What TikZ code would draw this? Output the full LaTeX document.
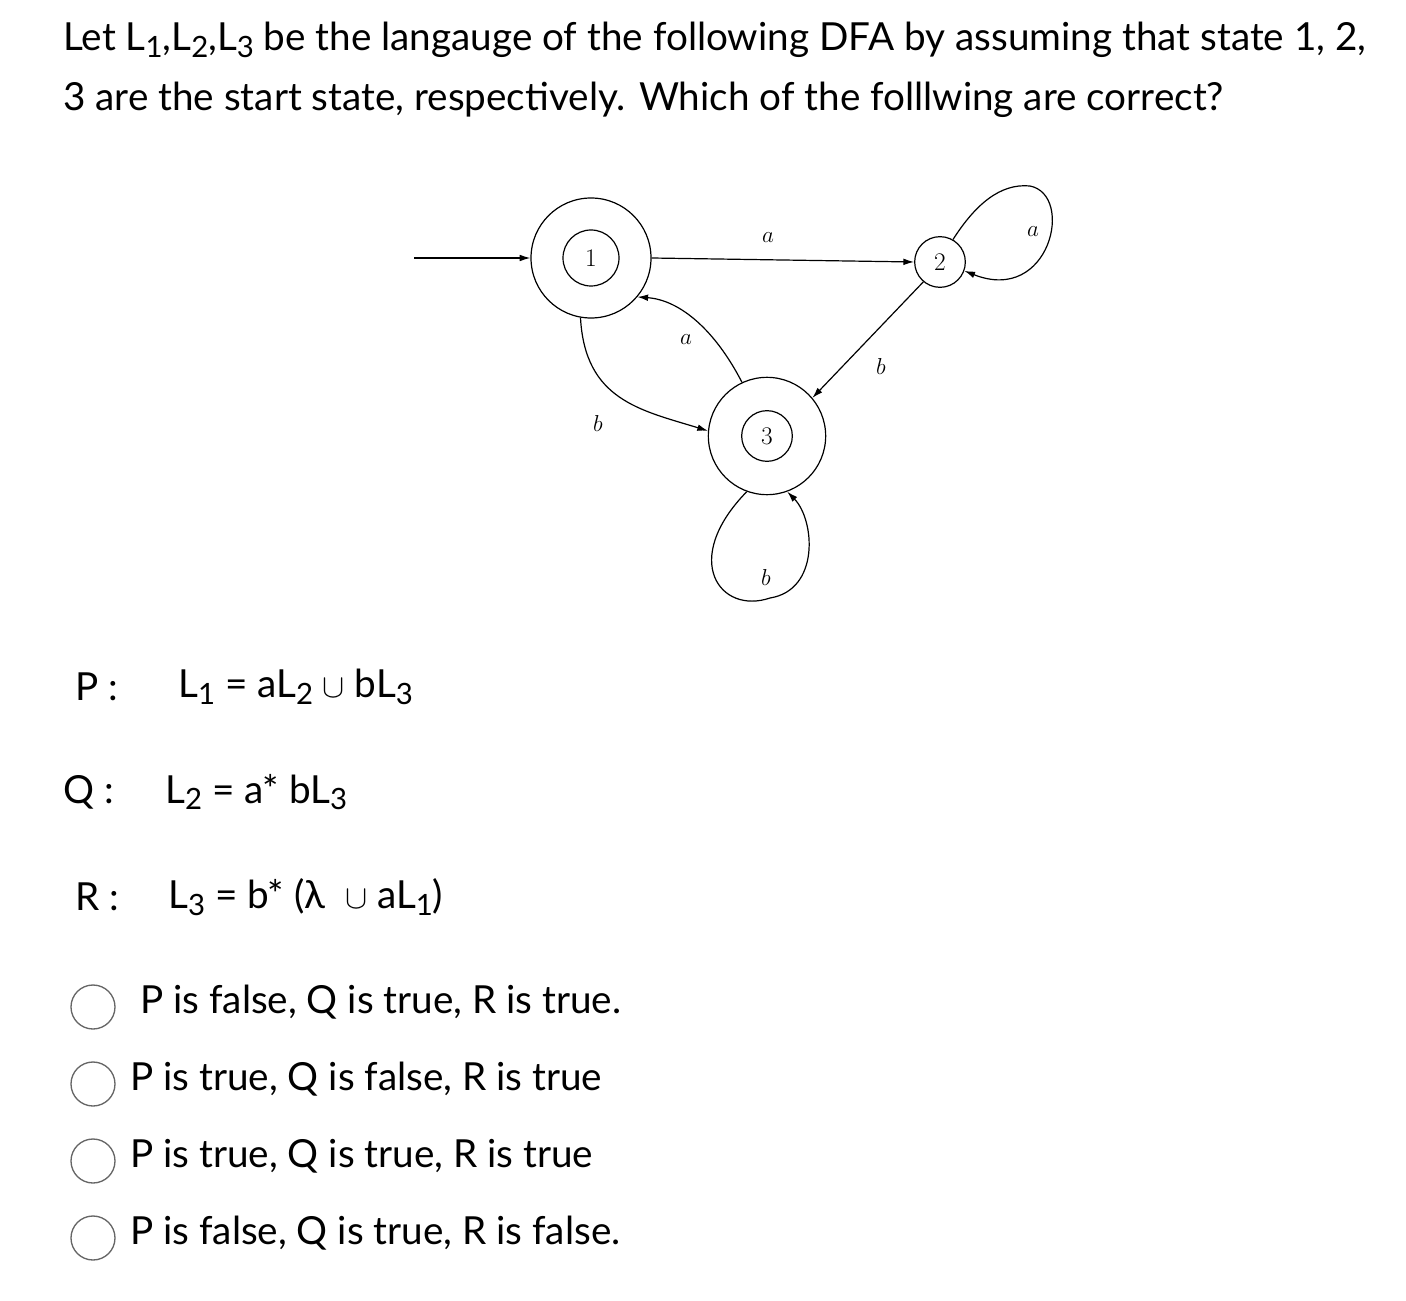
\documentclass[tikz,border=0pt]{standalone}
\usepackage{fontspec}
\setmainfont{Lato}
\newfontfamily\lmfont{Latin Modern Roman}
\usetikzlibrary{arrows.meta}
\newcommand{\sbs}[1]{\raisebox{-0.35ex}{\fontsize{22}{22}\selectfont #1}}
\begin{document}
\begin{tikzpicture}[x=0.75pt,y=-0.75pt,
  txt/.style={anchor=west,inner sep=0pt,font=\fontsize{29}{34}\selectfont},
  lbl/.style={inner sep=0pt,font=\fontsize{18}{18}\selectfont},
  st/.style={circle,draw,line width=0.9pt,inner sep=0pt,font=\lmfont\fontsize{19}{19}\selectfont},
  outer/.style={circle,draw,line width=0.9pt,inner sep=0pt},
  ar/.style={-{Latex[length=8pt,width=5pt]},line width=0.9pt},
  opt/.style={circle,draw=gray!80!black,line width=1pt,minimum size=33pt,inner sep=0pt}]
\useasboundingbox (0,0) rectangle (1406,1301);
\node[txt] (t1) at (63,40) {Let L\sbs{1},L\sbs{2},L\sbs{3} be the langauge of the following DFA by assuming that state 1, 2,};
\node[txt] (t2) at (63,100) {3 are the start state, respectively. Which of the folllwing are correct?};
% states
\node[st,minimum size=42pt] (s1) at (591,258) {1};
\node[outer,minimum size=90pt] (o1) at (591,258) {};
\node[st,minimum size=38pt] (s2) at (940,262) {2};
\node[st,minimum size=38pt] (s3) at (767,436) {3};
\node[outer,minimum size=88pt] (o3) at (767,436) {};
\coordinate (start) at (414,258);
\draw[ar] (start) -- (o1.west);
\draw[ar] (o1.east) -- (s2.west);
\node[lbl] (la1) at (768,238) {$a$};
\draw[ar] (s2.60) .. controls (975,205) and (1000,183) .. (1030,186) .. controls (1075,195) and (1050,305) .. (s2.-20);
\node[lbl] (la2) at (1033,232) {$a$};
\draw[ar] (s2.-130) -- (o3.40);
\node[lbl] (lb1) at (881,367) {$b$};
\draw[ar] (o3.115) .. controls (715,330) and (680,300) .. (o1.-40);
\node[lbl] (la3) at (686,340) {$a$};
\draw[ar] (o1.-100) .. controls (585,400) and (640,410) .. (o3.175);
\node[lbl] (lb2) at (598,424) {$b$};
\draw[ar] (o3.-110) .. controls (680,560) and (720,615) .. (770,598) .. controls (820,590) and (815,520) .. (o3.-70);
\node[lbl] (lb3) at (766,577) {$b$};
% statements
\node[txt] (p) at (75,687) {P\ :};
\node[txt] (pe) at (178,687) {L\sbs{1} = aL\sbs{2} $\cup$ bL\sbs{3}};
\node[txt] (q) at (63,792) {Q\ :};
\node[txt] (qe) at (165,792) {L\sbs{2} = a* bL\sbs{3}};
\node[txt] (r) at (75,897) {R\ :};
\node[txt] (re) at (168,897) {L\sbs{3} = b* (λ\ \ $\cup$ aL\sbs{1})};
% options
\node[opt] (c1) at (93,1007) {};
\node[opt] (c2) at (93,1084) {};
\node[opt] (c3) at (93,1161) {};
\node[opt] (c4) at (93,1238) {};
\node[txt] (a1) at (140,1002) {P is false, Q is true, R is true.};
\node[txt] (a2) at (130,1079) {P is true, Q is false, R is true};
\node[txt] (a3) at (130,1156) {P is true, Q is true, R is true};
\node[txt] (a4) at (130,1233) {P is false, Q is true, R is false.};
\end{tikzpicture}
\end{document}
